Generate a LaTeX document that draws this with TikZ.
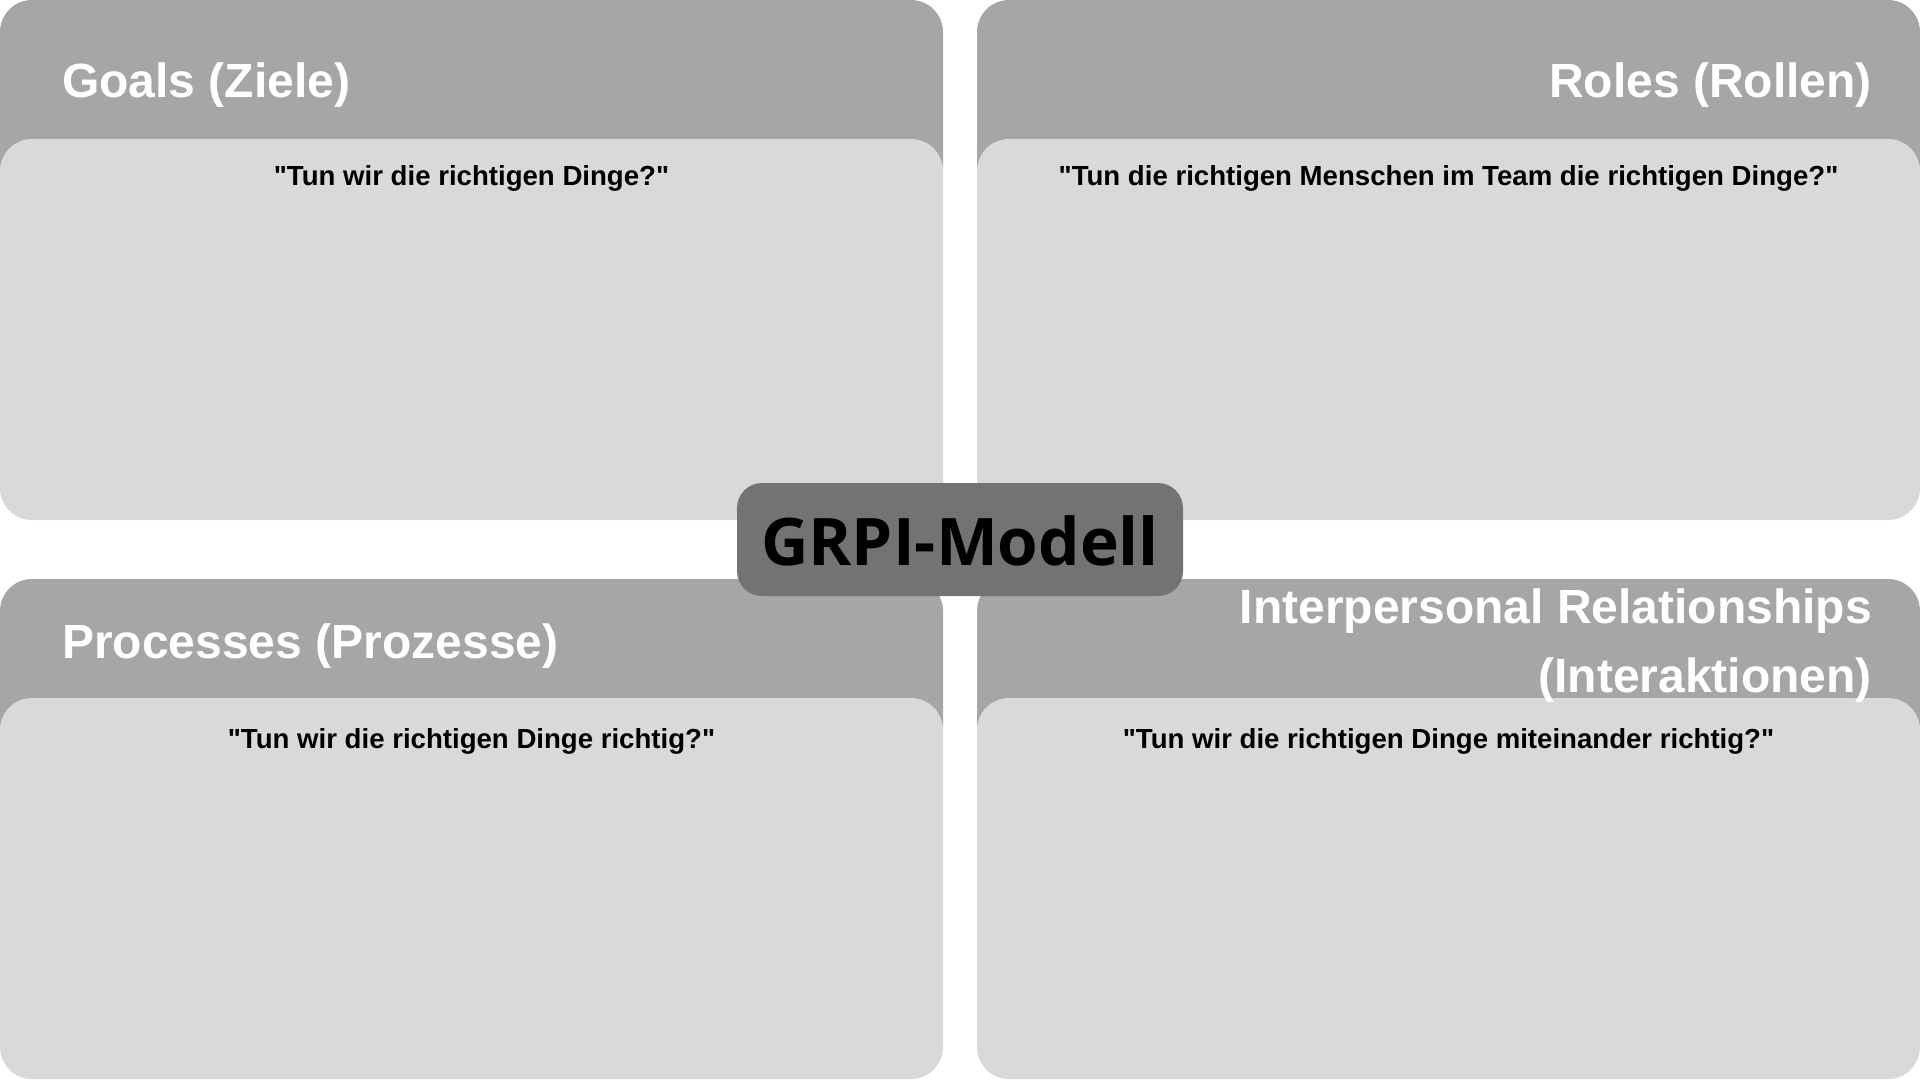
\documentclass[tikz,border=0pt]{standalone}
\usepackage{fontspec}
\setmainfont{Liberation Sans}[Ligatures=TeXOff]
\newfontfamily\badgefont{Open Sans}
\usepackage{tikz}

\definecolor{headgray}{HTML}{A6A6A6}
\definecolor{cardgray}{HTML}{D9D9D9}
\definecolor{badgegray}{HTML}{737373}

\begin{document}
\begin{tikzpicture}[x=1pt, y=-1pt,
  header/.style={fill=headgray, rounded corners=32pt},
  card/.style={fill=cardgray, rounded corners=32pt},
  badge/.style={fill=badgegray, rounded corners=25pt},
  title/.style={inner sep=0pt, text=white, font=\fontsize{48}{69}\selectfont\bfseries},
  question/.style={inner sep=0pt, anchor=base, font=\fontsize{27.6}{32}\selectfont\bfseries}]

  \useasboundingbox (0,0) rectangle (1920,1080);

  % Top panels
  \fill[header] (0,0) rectangle (943,200);
  \fill[card]   (0,139) rectangle (943,520);
  \fill[header] (977,0) rectangle (1920,200);
  \fill[card]   (977,139) rectangle (1920,520);

  % Bottom panels
  \fill[header] (0,579) rectangle (943,760);
  \fill[card]   (0,698) rectangle (943,1079);
  \fill[header] (977,579) rectangle (1920,760);
  \fill[card]   (977,698) rectangle (1920,1079);

  % Panel titles
  \node[title, anchor=base west] (goals) at (62,97) {Goals (Ziele)};
  \node[title, anchor=base east] (roles) at (1872,97) {Roles (Rollen)};
  \node[title, anchor=base west] (proc)  at (62,658) {Processes (Prozesse)};
  \node[title, anchor=base east] (inter) at (1872,623) {Interpersonal Relationships};
  \node[title, anchor=base east] (inter2) at (1872,692) {(Interaktionen)};

  % Questions
  \node[question] (qgoals) at (471.5,185) {"Tun wir die richtigen Dinge?"};
  \node[question] (qroles) at (1448.5,185) {"Tun die richtigen Menschen im Team die richtigen Dinge?"};
  \node[question] (qproc)  at (471.5,748) {"Tun wir die richtigen Dinge richtig?"};
  \node[question] (qinter) at (1448.5,748) {"Tun wir die richtigen Dinge miteinander richtig?"};

  % Center badge
  \fill[badge] (737,483) rectangle (1183,596);
  \node[inner sep=0pt, anchor=base, font=\badgefont\fontsize{65.6}{70}\selectfont\bfseries] (grpi) at (960,565) {GRPI-Modell};

\end{tikzpicture}
\end{document}
